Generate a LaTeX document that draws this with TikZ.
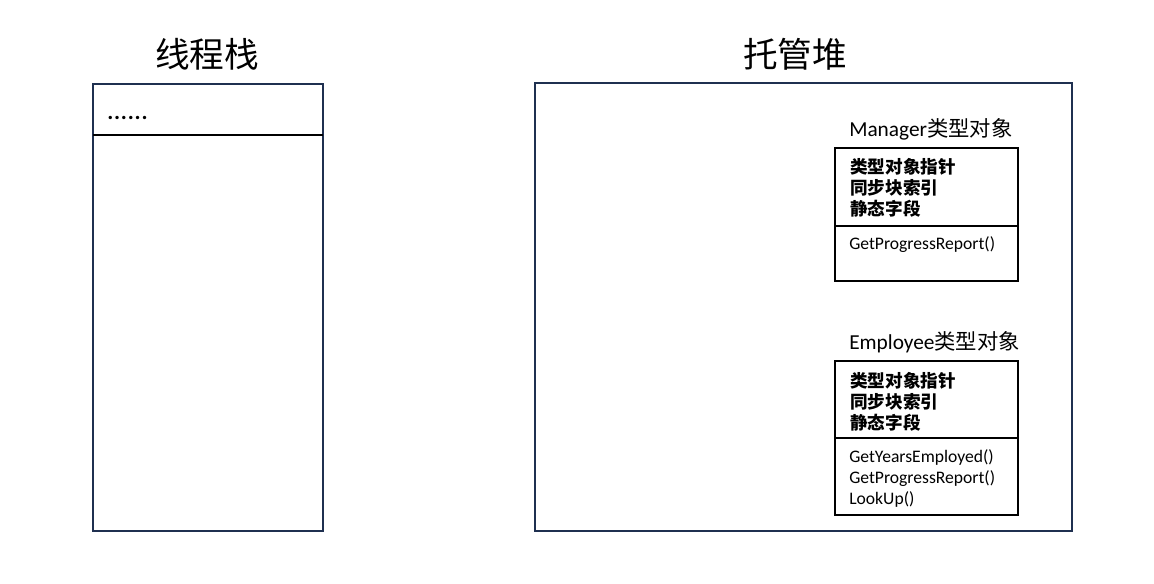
\documentclass[tikz,border=0pt]{standalone}
\usepackage{fontspec}
\setmainfont{Carlito}
\newfontfamily\cjk{Noto Sans CJK SC}
\definecolor{navy}{HTML}{1F3050}
\tikzset{
  outerbox/.style={draw=navy,line width=1.5pt},
  innerbox/.style={draw=black,line width=1.3pt},
  title/.style={font=\cjk\fontsize{26}{28}\selectfont,inner sep=0pt},
  lbl/.style={font=\fontsize{16}{18}\selectfont,anchor=west,inner sep=0pt},
  boldtxt/.style={font=\cjk\bfseries\fontsize{13.2}{15.8}\selectfont,anchor=north west,inner sep=0pt,align=left},
  mtxt/.style={font=\fontsize{13.2}{15.8}\selectfont,anchor=north west,inner sep=0pt,align=left},
}
\begin{document}
\begin{tikzpicture}[x=0.75pt,y=-0.75pt]
\useasboundingbox (0,0) rectangle (1154,583);
% thread stack
\node[title] (t1) at (207,54) {线程栈};
\draw[outerbox] (93,84) rectangle (323,531);
\coordinate (s1) at (93,135);
\coordinate (s2) at (323,135);
\draw[black,line width=1pt] (s1) -- (s2);
\node[anchor=west,inner sep=0pt,font=\bfseries\fontsize{17}{19}\selectfont] (dots) at (107,118) {.\kern0.6pt.\kern0.6pt.\kern0.6pt.\kern0.6pt.\kern0.6pt.};
% managed heap
\node[title] (t2) at (795,54) {托管堆};
\draw[outerbox] (535,83) rectangle (1072,531);
% Manager
\node[lbl] (ml) at (849,129) {Manager{\cjk 类型对象}};
\draw[innerbox] (835,148) rectangle (1018,281);
\coordinate (m1) at (835,226);
\coordinate (m2) at (1018,226);
\draw[black,line width=1pt] (m1) -- (m2);
\node[boldtxt] (mb) at (850,158) {类型对象指针\\同步块索引\\静态字段};
\node[mtxt] (mm) at (849,236) {GetProgressReport()};
% Employee
\node[lbl] (el) at (849,342) {Employee{\cjk 类型对象}};
\draw[innerbox] (835,361) rectangle (1018,515);
\coordinate (e1) at (835,438);
\coordinate (e2) at (1018,438);
\draw[black,line width=1pt] (e1) -- (e2);
\node[boldtxt] (eb) at (850,372) {类型对象指针\\同步块索引\\静态字段};
\node[mtxt] (em) at (849,449) {GetYearsEmployed()\\GetProgressReport()\\LookUp()};
\end{tikzpicture}
\end{document}
